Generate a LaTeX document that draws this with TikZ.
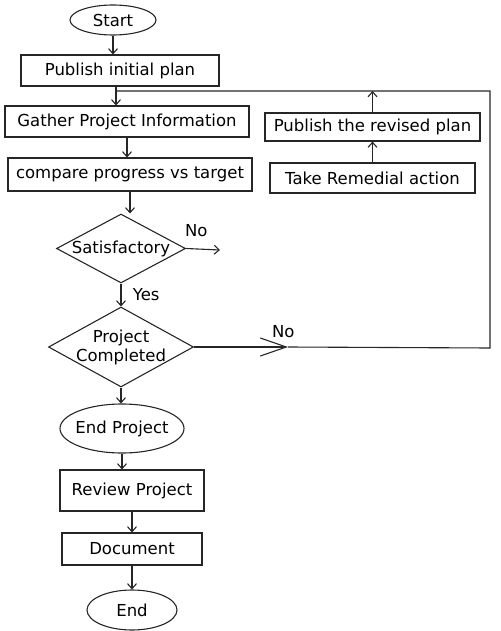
\documentclass[tikz,border=0pt]{standalone}
\usepackage{fontspec}
\setmainfont{DejaVu Sans}
\usetikzlibrary{arrows,arrows.meta,shapes.geometric,positioning}

\begin{document}
\begin{tikzpicture}[x=1pt,y=-1pt,line width=1.1pt,draw=black!85,
  >={Straight Barb[length=5pt,width=9pt]},
  every node/.style={font=\fontsize{16.5}{19}\selectfont},
  box/.style={rectangle,draw,inner sep=0pt},
  term/.style={ellipse,draw,inner sep=-3pt},
  decision/.style={diamond,draw,aspect=1.9,inner sep=-6pt,align=center}]
  \useasboundingbox (0,0) rectangle (500,631);
  \node[term,minimum width=86pt,minimum height=30pt] (start) at (113,20) {Start};
  \node[box,minimum width=198pt,minimum height=31pt] (init) at (120,70.5) {Publish initial plan};
  \node[box,minimum width=244pt,minimum height=31pt] (gather) at (127,121.5) {Gather Project Information};
  \node[box,minimum width=244pt,minimum height=33pt] (comp) at (130,174.5) {compare progress vs target};
  \node[box,minimum width=215pt,minimum height=28pt] (rev) at (372.5,127) {Publish the revised plan};
  \node[box,minimum width=205pt,minimum height=30pt] (rem) at (372.5,178) {Take Remedial action};
  \node[decision,minimum width=129pt,minimum height=69pt] (sat) at (121,248.5) {Satisfactory};
  \node[decision,minimum width=145pt,minimum height=80pt] (done) at (121,347) {Project\\Completed};
  \node[term,minimum width=124pt,minimum height=49pt] (endp) at (122,428.5) {End Project};
  \node[box,minimum width=144pt,minimum height=41pt] (review) at (132,490.5) {Review Project};
  \node[box,minimum width=140pt,minimum height=32pt] (doc) at (132,549) {Document};
  \node[term,minimum width=90pt,minimum height=40pt] (end) at (132,610) {End};
  %% loop back
  \coordinate (jn) at (116,91);
  \coordinate (tr) at (490,91);
  \coordinate (br) at (490,348);
  \coordinate (nomid) at (288,347);
  \coordinate (satno) at (220,250);
  \foreach \a/\b in {start/init,gather/comp,comp/sat,done/endp,endp/review,review/doc,doc/end}
    \draw[->] (\a.south) -- (\a.south |- \b.north);
  \draw[->] (jn |- init.south) -- (jn |- gather.north);
  \draw[->] (sat.south) -- node[right=8pt] {Yes} (done.north);
  \draw[->] (sat.east) -- node[pos=.3,above=8pt] {No} (satno);
  \draw[-{Straight Barb[length=26pt,width=18pt]}] (done.east) -- (nomid) node[pos=.95,above=5pt] {No};
  \draw (nomid) -- (br) -- (tr) -- (jn);
  \draw[->] (rem.north) -- (rem.north |- rev.south);
  \draw[->] (rev.north) -- (rev.north |- jn);
\end{tikzpicture}
\end{document}
